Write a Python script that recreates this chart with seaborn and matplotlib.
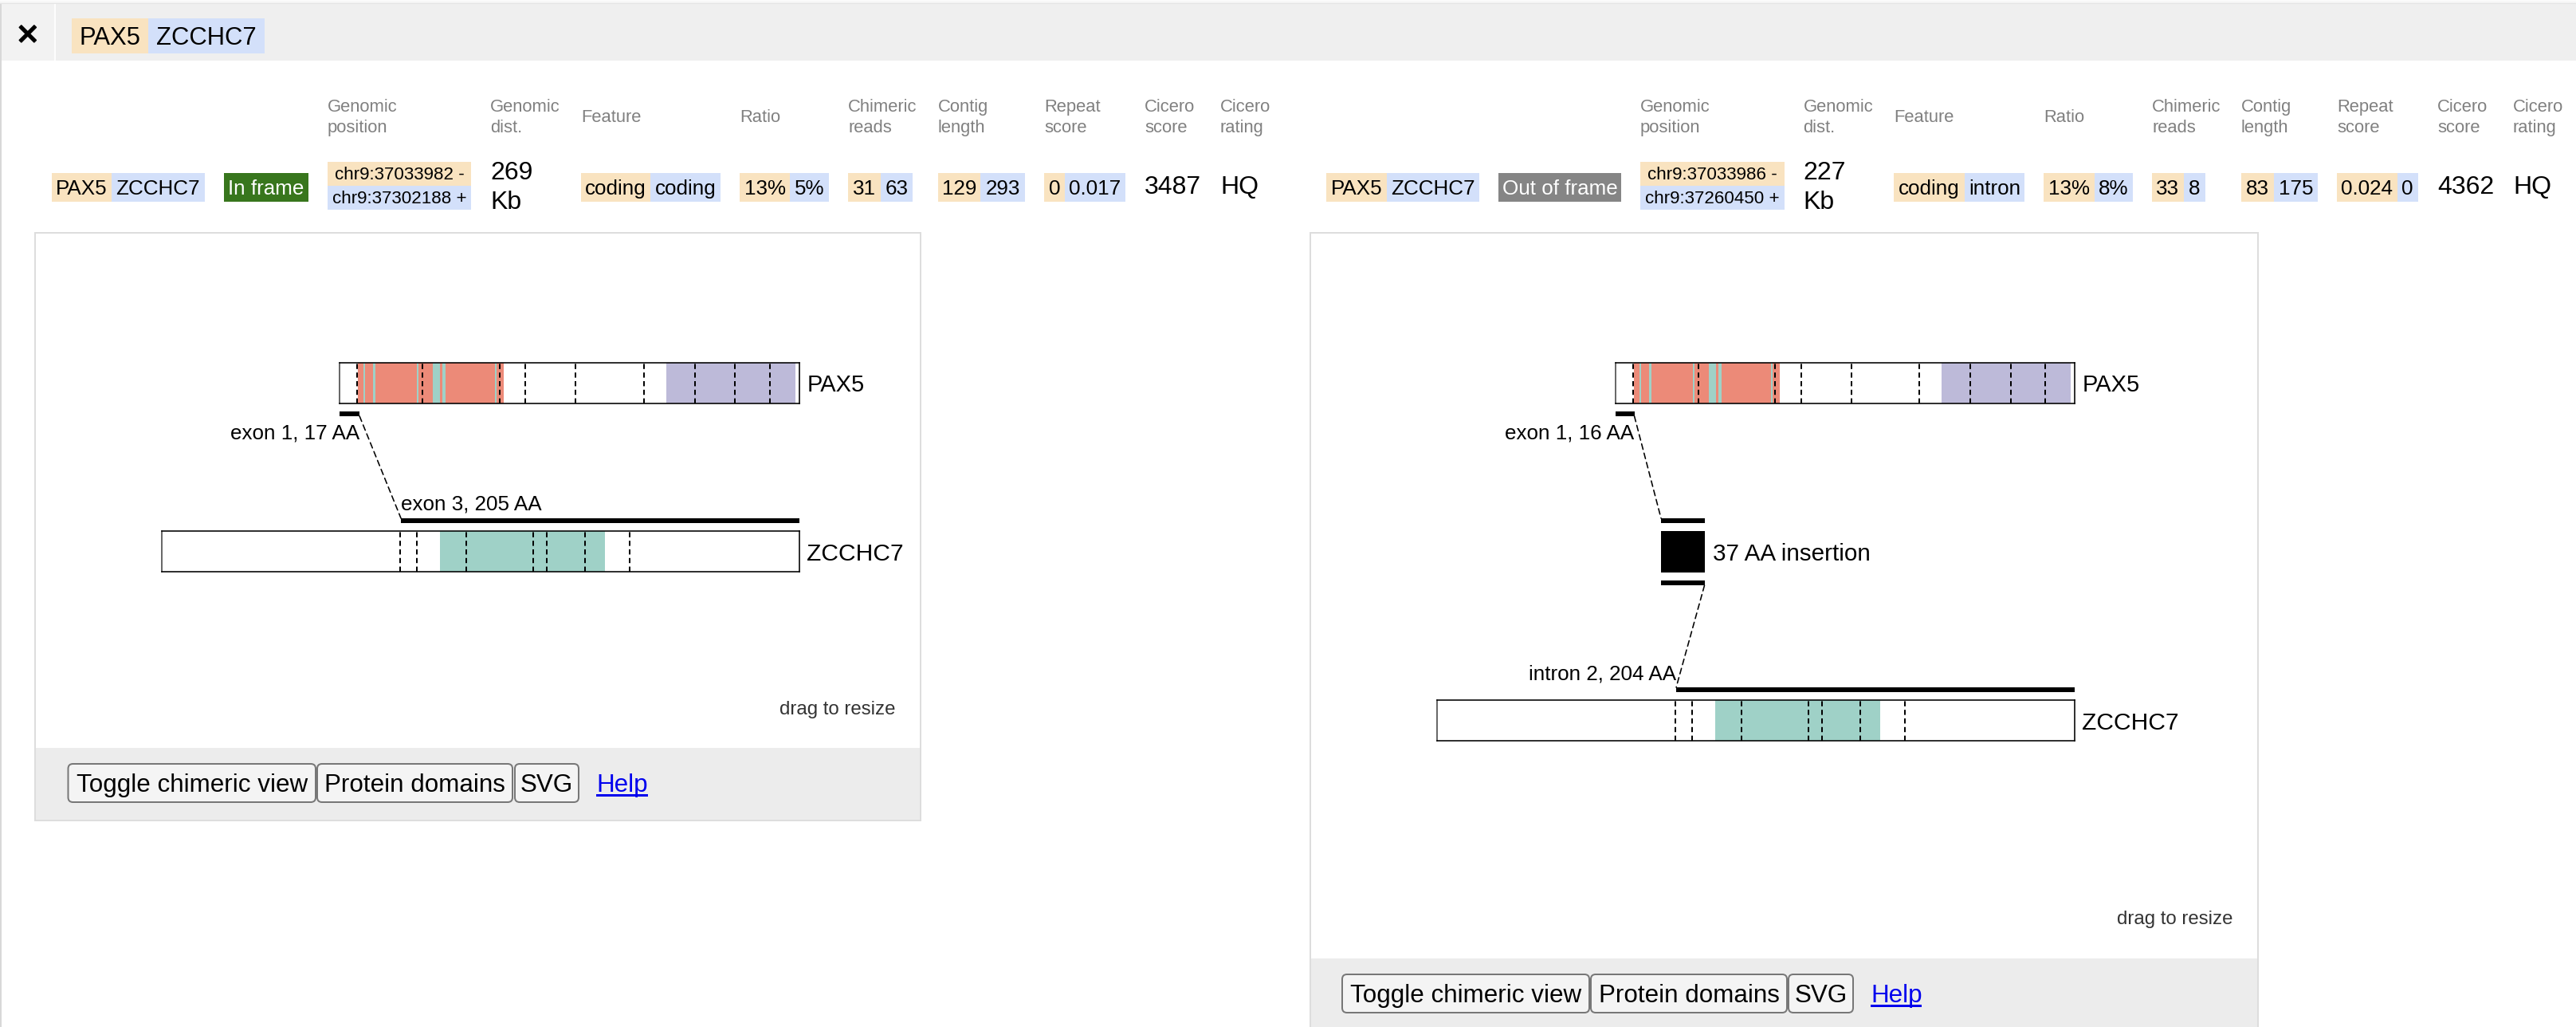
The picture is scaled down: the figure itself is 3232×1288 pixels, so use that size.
import matplotlib
matplotlib.use("Agg")
import matplotlib.pyplot as plt
from matplotlib.patches import Rectangle, FancyBboxPatch, ConnectionPatch
import matplotlib.patheffects as pe
import seaborn as sns

# ---------- data ----------
gene_a = "PAX5"
gene_b = "ZCCHC7"
pax5_len = 391
zcchc7_len = 543
pax5_domain_main = (15.5, 139.7)
pax5_domain_tail = (278, 388)
pax5_stripes = [(20.4, 21.7), (28.5, 30.7), (66.0, 67.2), (79.4, 85.6), (87.5, 90.4), (132.3, 133.6)]
pax5_exons = [14.9, 70.5, 136.1, 158, 201, 259, 302.5, 336.7, 366]
zcchc7_domain = (237.5, 378)
zcchc7_exons = [203, 217.6, 259.5, 316.5, 328.2, 360.5, 398.5]

headers = [["Genomic", "position"], ["Genomic", "dist."], ["Feature"], ["Ratio"],
           ["Chimeric", "reads"], ["Contig", "length"], ["Repeat", "score"],
           ["Cicero", "score"], ["Cicero", "rating"]]
frames = ["In frame", "Out of frame"]
positions = [("chr9:37033982 -", "chr9:37302188 +"), ("chr9:37033986 -", "chr9:37260450 +")]
distances = [("269", "Kb"), ("227", "Kb")]
features = [("coding", "coding"), ("coding", "intron")]
ratios = [("13%", "5%"), ("13%", "8%")]
chimeric = [("31", "63"), ("33", "8")]
contigs = [("129", "293"), ("83", "175")]
repeats = [("0", "0.017"), ("0.024", "0")]
cicero_scores = ["3487", "4362"]
cicero_ratings = ["HQ", "HQ"]
exon_a_aa = [17, 16]
exon_b_start = [204, 204]
exon_labels_a = ["exon 1, 17 AA", "exon 1, 16 AA"]
exon_labels_b = ["exon 3, 205 AA", "intron 2, 204 AA"]
insertion_aa = 37
insertion_label = "37 AA insertion"
buttons = ["Toggle chimeric view", "Protein domains", "SVG"]

# ---------- style ----------
sns.set_theme(style="white")
plt.rcParams["font.family"] = ["Liberation Sans", "DejaVu Sans"]
W, H = 3232, 1288
TAN, BLUE = "#f9e3c0", "#d3e0fa"
RED, TEAL, PURPLE = "#ec8a78", "#9fd1c7", "#bdbad9"
GRAY_TEXT = "#808080"
pt = lambda px: px * 0.72

fig = plt.figure(figsize=(W / 100, H / 100), dpi=100, facecolor="white")
ui = fig.add_axes([0, 0, 1, 1], zorder=1)
ui.set_xlim(0, W)
ui.set_ylim(H, 0)
ui.axis("off")


def box(x0, y0, x1, y1, color, z=1):
    ui.add_patch(Rectangle((x0, y0), x1 - x0, y1 - y0, fc=color, ec="none", lw=0, zorder=z))


def txt(x, y, s, px, color="black", ha="left", **kw):
    ui.text(x, y, s, fontsize=pt(px), color=color, ha=ha, va="baseline", zorder=4, **kw)


def pills(edges, values, y0, y1, base, px=26, colors=(TAN, BLUE)):
    for i, v in enumerate(values):
        box(edges[i], y0, edges[i + 1], y1, colors[i])
        txt((edges[i] + edges[i + 1]) / 2, base, v, px, ha="center")


# top bar
box(0, 0, W, 2, "#fbfbfb")
box(0, 2, W, 4, "#f4f4f4")
box(0, 4, W, 5, "#e4e4e4")
box(0, 5, W, 76, "#efefef")
box(0, 5, 68, 76, "#f2f2f2")
box(68, 5, 70, 76, "#fdfdfd")
box(0, 5, 1.5, H, "#d8d8d8", z=1.2)
ui.text(34.8, 55.5, "\u2715", fontsize=pt(36), family="DejaVu Sans", ha="center", va="baseline",
        color="black", zorder=4, path_effects=[pe.withStroke(linewidth=pt(1.6), foreground="black")])
pills([90, 186, 332], [gene_a, gene_b], 23, 67, 56, px=31)

# panel layouts (pixels on the page)
layouts = [
    dict(head=[411, 615, 729, 928, 1064, 1177, 1310, 1436, 1531],
         gene=[65, 139.5, 257], frame=(281, 387), frame_color="#38761d",
         chrom=(411, 591), feat=[729, 816, 904], ratio=[928, 991, 1040],
         chim=[1064, 1105, 1145], cont=[1177, 1230, 1286], rep=[1310, 1336, 1412],
         panel=(43, 1156), foot=(938, 1028), btn=[(85.5, 396), (398, 643), (646, 726)],
         btn_y=(958, 1006), help=(748, 813), drag=(1124, 896), base=993,
         a=(426, 1002.5), b=(202.5, 1002.5), b_y=(666, 717)),
    dict(head=[2058, 2262.5, 2376, 2564, 2700, 2811.5, 2932, 3058, 3153],
         gene=[1664, 1740, 1856], frame=(1880, 2034), frame_color="#858585",
         chrom=(2058, 2239), feat=[2376, 2465, 2540], ratio=[2564, 2627.5, 2676],
         chim=[2700, 2739.5, 2767], cont=[2811.5, 2852.6, 2908], rep=[2932, 3008, 3033.5],
         panel=(1643, 2834), foot=(1202, 1290), btn=[(1684, 1994), (1996, 2242), (2244, 2325)],
         btn_y=(1222, 1270), help=(2347, 2411), drag=(2802, 1159), base=1257,
         a=(2027, 2602.5), b=(1802.5, 2602.5), b_y=(878, 929)),
]


def track(x0, x1, y0, y1, length):
    ax = fig.add_axes([x0 / W, 1 - y1 / H, (x1 - x0) / W, (y1 - y0) / H], zorder=2)
    ax.set_xlim(0, length)
    ax.set_ylim(0, 1)
    ax.set_xticks([])
    ax.set_yticks([])
    ax.set_facecolor("white")
    for s in ax.spines.values():
        s.set_visible(True)
        s.set_color("black")
        s.set_linewidth(pt(1.6))
    ax.spines["left"].set_color("#444444")
    return ax


def exon_rug(ax, xs):
    sns.rugplot(x=xs, ax=ax, height=1, expand_margins=False, color="black",
                linewidth=pt(2), linestyles=[(0, (3.2, 2.2))], zorder=3)
    ax.set_xlim(0, ax.get_xlim()[1])
    ax.set_xlabel("")


def connect(ax_a, xy_a, ax_b, xy_b):
    fig.add_artist(ConnectionPatch(xy_a, xy_b, coordsA=ax_a.transData, coordsB=ax_b.transData,
                                   color="black", lw=pt(1.6), linestyle=(0, (4.5, 3)), zorder=3))


for i, L in enumerate(layouts):
    # header row
    for x, lines in zip(L["head"], headers):
        if len(lines) == 2:
            txt(x, 140, lines[0], 22, GRAY_TEXT)
            txt(x, 166, lines[1], 22, GRAY_TEXT)
        else:
            txt(x, 153, lines[0], 22, GRAY_TEXT)
    # values row
    pills(L["gene"], [gene_a, gene_b], 217, 253, 244)
    box(L["frame"][0], 217, L["frame"][1], 253, L["frame_color"])
    txt(sum(L["frame"]) / 2, 244, frames[i], 26, "white", ha="center")
    cx0, cx1 = L["chrom"]
    box(cx0, 203, cx1, 233, TAN)
    box(cx0, 233, cx1, 263, BLUE)
    txt((cx0 + cx1) / 2, 225, positions[i][0], 22.4, ha="center")
    txt((cx0 + cx1) / 2, 255, positions[i][1], 22.4, ha="center")
    txt(L["head"][1], 225, distances[i][0], 32)
    txt(L["head"][1], 262, distances[i][1], 32)
    pills(L["feat"], features[i], 217, 253, 244)
    pills(L["ratio"], ratios[i], 217, 253, 244)
    pills(L["chim"], chimeric[i], 217, 253, 244)
    pills(L["cont"], contigs[i], 217, 253, 244)
    pills(L["rep"], repeats[i], 217, 253, 244)
    txt(L["head"][7], 243, cicero_scores[i], 32)
    txt(L["head"][8], 243, cicero_ratings[i], 32)

    # panel frame
    px0, px1 = L["panel"]
    fy0, fy1 = L["foot"]
    box(px0, 291, px1, min(fy1 + 2, H + 2), "#dddddd", z=0.5)
    box(px0 + 2, 293, px1 - 2, fy0, "white", z=0.6)
    box(px0 + 2, fy0, px1 - 2, fy1, "#ececec", z=0.6)

    # tracks
    ax_a = track(L["a"][0], L["a"][1], 454.5, 505.5, pax5_len)
    ax_a.axvspan(*pax5_domain_main, color=RED, lw=0)
    for s in pax5_stripes:
        ax_a.axvspan(*s, color=TEAL, lw=0)
    ax_a.axvspan(*pax5_domain_tail, color=PURPLE, lw=0)
    exon_rug(ax_a, pax5_exons)
    ax_a.barh(-0.26, exon_a_aa[i], height=0.118, left=0, color="black", lw=0, clip_on=False)

    by0, by1 = L["b_y"]
    ax_b = track(L["b"][0], L["b"][1], by0, by1, zcchc7_len)
    ax_b.axvspan(*zcchc7_domain, color=TEAL, lw=0)
    exon_rug(ax_b, zcchc7_exons)
    ax_b.barh(1.255, zcchc7_len - exon_b_start[i], height=0.118, left=exon_b_start[i],
              color="black", lw=0, clip_on=False)

    lab_x = L["a"][1] + 10.5
    txt(lab_x, 491, gene_a, 29)
    txt(lab_x - 1, by1 - 14, gene_b, 30)

    txt(L["a"][0] + exon_a_aa[i] * 1.474, 550, exon_labels_a[i], 26, ha="right")

    if i == 0:
        connect(ax_a, (exon_a_aa[i], -0.32), ax_b, (exon_b_start[i], 1.314))
        txt(503, 639, exon_labels_b[i], 26)
    else:
        x0 = 2084
        ax_i = track(x0, x0 + insertion_aa * 1.474, 666, 718, insertion_aa)
        for s in ax_i.spines.values():
            s.set_visible(False)
        ax_i.barh(0.5, insertion_aa, height=1, left=0, color="black", lw=0)
        ax_i.barh(1.25, insertion_aa, height=0.118, left=0, color="black", lw=0, clip_on=False)
        ax_i.barh(-0.25, insertion_aa, height=0.118, left=0, color="black", lw=0, clip_on=False)
        connect(ax_a, (exon_a_aa[i], -0.32), ax_i, (0, 1.31))
        connect(ax_i, (insertion_aa, -0.31), ax_b, (exon_b_start[i], 1.314))
        txt(2149, 703, insertion_label, 29.6)
        txt(2103, 852, exon_labels_b[i], 26, ha="right")

    txt(L["drag"][0], L["drag"][1], "drag to resize", 24, "#333333", ha="right")

    # buttons
    by_0, by_1 = L["btn_y"]
    for (b0, b1), label in zip(L["btn"], buttons):
        ui.add_patch(FancyBboxPatch((b0 + 6, by_0 + 6), b1 - b0 - 12, by_1 - by_0 - 12,
                                    boxstyle="round,pad=6,rounding_size=6", fc="#f4f4f4",
                                    ec="#777777", lw=pt(2), zorder=2))
        txt((b0 + b1) / 2, L["base"], label, 31.4, ha="center")
    h0, h1 = L["help"]
    txt(h0, L["base"], "Help", 31.4, "#0000ee")
    box(h0, L["base"] + 3, h1, L["base"] + 5.5, "#0000ee", z=3)

fig.savefig("out.png", dpi=100)
